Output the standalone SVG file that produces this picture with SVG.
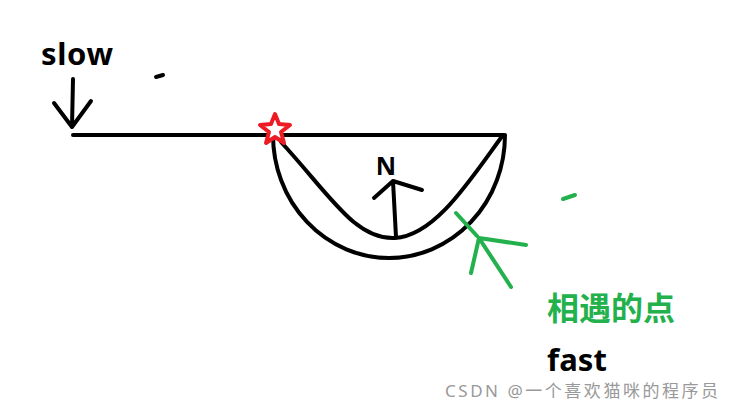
<svg xmlns="http://www.w3.org/2000/svg" width="733" height="410" viewBox="0 0 733 410">
<style>
.k{fill:none;stroke:#000;stroke-width:4;stroke-linecap:round;stroke-linejoin:round}
.g{fill:none;stroke:#22b14c;stroke-width:4;stroke-linecap:round;stroke-linejoin:round}
.t{font-family:"Noto Sans","Noto Sans CJK SC",sans-serif;font-weight:bold}
</style>
<rect width="733" height="410" fill="#fff"/>
<g id="slow">
<text class="t" x="41" y="65" font-size="31" fill="#000" textLength="72">slow</text>
<path class="k" d="M73 79 L72 127 M54 103 L72 127 L91 101"/>
<path class="k" d="M156 77 L163 75"/>
</g>
<g id="connectors">
<path class="k" d="M73 135 L503 135"/>
<path class="k" d="M273 135 A116 123 0 0 0 505 135"/>
<path class="k" d="M281 142 C330 195 355 240 395 238 C435 236 470 180 503 135"/>
<path class="k" d="M396 237 L393 181 M374 198 L393 181 L422 190"/>
</g>
<g id="star">
<path d="M275 114 L279 124 L290 125 L281 132 L284 143 L275 137 L266 143 L269 132 L260 125 L271 124 Z" fill="#fff" stroke="#ed1c24" stroke-width="4" stroke-linejoin="round"/>
</g>
<g id="N">
<text class="t" x="386" y="175" font-size="25" text-anchor="middle" fill="#000">N</text>
</g>
<g id="meet">
<path class="g" d="M456 213 L477 236 M471 273 L479 238 L511 287 M479 238 L526 245"/>
<path class="g" d="M563 199 L575 195"/>
<text class="t" x="547" y="320" font-size="32" fill="#22b14c" textLength="128">相遇的点</text>
</g>
<g id="fast">
<text class="t" x="547" y="371" font-size="31" fill="#000" textLength="60">fast</text>
</g>
<text x="445" y="397" font-family="'Noto Sans','Noto Sans CJK SC',sans-serif" font-size="17" fill="#999" textLength="273">CSDN @一个喜欢猫咪的程序员</text>
</svg>
